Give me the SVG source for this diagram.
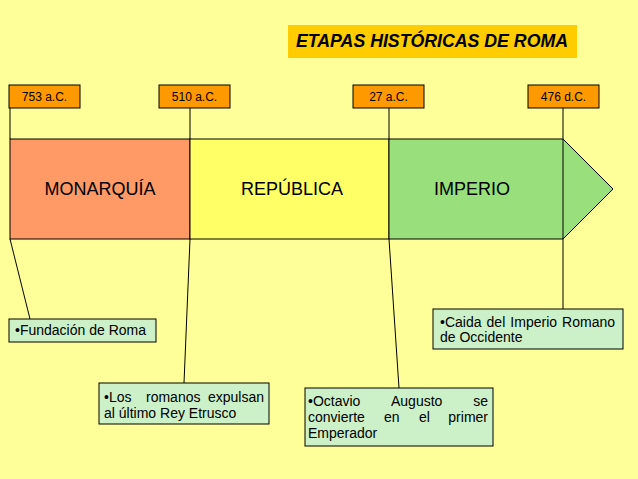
<svg xmlns="http://www.w3.org/2000/svg" width="638" height="479" viewBox="0 0 638 479">
<style>
.t{font-family:"Liberation Sans",Arial,sans-serif;fill:#000}
.date{font-size:12px;text-anchor:middle}
.band{font-size:18px;text-anchor:middle}
.note{font-size:14px}
.box{stroke:#000;stroke-width:1}
.dbox{fill:#FF9900;stroke:#000;stroke-width:1}
.nbox{fill:#CCF0C8;stroke:#000;stroke-width:1}
.ln{stroke:#000;stroke-width:1;fill:none}
</style>
<rect x="0" y="0" width="638" height="479" fill="#FFFF99"/>
<g id="title">
<rect x="288" y="25" width="289" height="33" fill="#FFCC00"/>
<text class="t" x="432" y="47" font-size="18" font-weight="bold" font-style="italic" text-anchor="middle" textLength="272" lengthAdjust="spacingAndGlyphs">ETAPAS HISTÓRICAS DE ROMA</text>
</g>
<g id="connectors">
<line class="ln" x1="10" y1="108" x2="10" y2="139"/>
<line class="ln" x1="190" y1="108" x2="190" y2="139"/>
<line class="ln" x1="389" y1="108" x2="389" y2="139"/>
<line class="ln" x1="563" y1="108" x2="563" y2="139"/>
<line class="ln" x1="10" y1="239" x2="30" y2="319"/>
<line class="ln" x1="190" y1="239" x2="184" y2="383"/>
<line class="ln" x1="389" y1="239" x2="399" y2="388"/>
<line class="ln" x1="563" y1="239" x2="563" y2="309"/>
</g>
<g id="date-753">
<rect class="dbox" x="9" y="85" width="71" height="23"/>
<text class="t date" x="44.5" y="101">753 a.C.</text>
</g>
<g id="date-510">
<rect class="dbox" x="159" y="85" width="71" height="23"/>
<text class="t date" x="194.5" y="101">510 a.C.</text>
</g>
<g id="date-27">
<rect class="dbox" x="353" y="85" width="71" height="23"/>
<text class="t date" x="388.5" y="101">27 a.C.</text>
</g>
<g id="date-476">
<rect class="dbox" x="528" y="85" width="71" height="23"/>
<text class="t date" x="563.5" y="101">476 d.C.</text>
</g>
<g id="monarquia">
<rect class="box" x="10" y="139" width="180" height="100" fill="#FF9966"/>
<text class="t band" x="100" y="195">MONARQUÍA</text>
</g>
<g id="republica">
<rect class="box" x="190" y="139" width="199" height="100" fill="#FFFF66"/>
<text class="t band" x="292" y="195">REPÚBLICA</text>
</g>
<g id="imperio">
<polygon class="box" points="389,139 563,139 613,189 563,239 389,239" fill="#99E07D"/>
<line class="ln" x1="563" y1="139" x2="563" y2="239"/>
<text class="t band" x="472" y="195">IMPERIO</text>
</g>
<g id="note-fundacion">
<rect class="nbox" x="9" y="319" width="147" height="23"/>
<text class="t note" x="15" y="335">•Fundación de Roma</text>
</g>
<g id="note-romanos">
<rect class="nbox" x="99" y="383" width="170" height="41"/>
<text class="t note" y="402"><tspan x="104">•Los</tspan><tspan x="146">romanos</tspan><tspan x="264" text-anchor="end">expulsan</tspan></text>
<text class="t note" x="104" y="418">al último Rey Etrusco</text>
</g>
<g id="note-octavio">
<rect class="nbox" x="305" y="388" width="188" height="58"/>
<text class="t note" y="406"><tspan x="308">•Octavio</tspan><tspan x="391">Augusto</tspan><tspan x="488" text-anchor="end">se</tspan></text>
<text class="t note" y="422"><tspan x="308">convierte</tspan><tspan x="384">en</tspan><tspan x="419">el</tspan><tspan x="488" text-anchor="end">primer</tspan></text>
<text class="t note" x="308" y="438">Emperador</text>
</g>
<g id="note-caida">
<rect class="nbox" x="433" y="309" width="190" height="40"/>
<text class="t note" x="440" y="327" word-spacing="1.2">•Caida del Imperio Romano</text>
<text class="t note" x="440" y="342">de Occidente</text>
</g>
</svg>
